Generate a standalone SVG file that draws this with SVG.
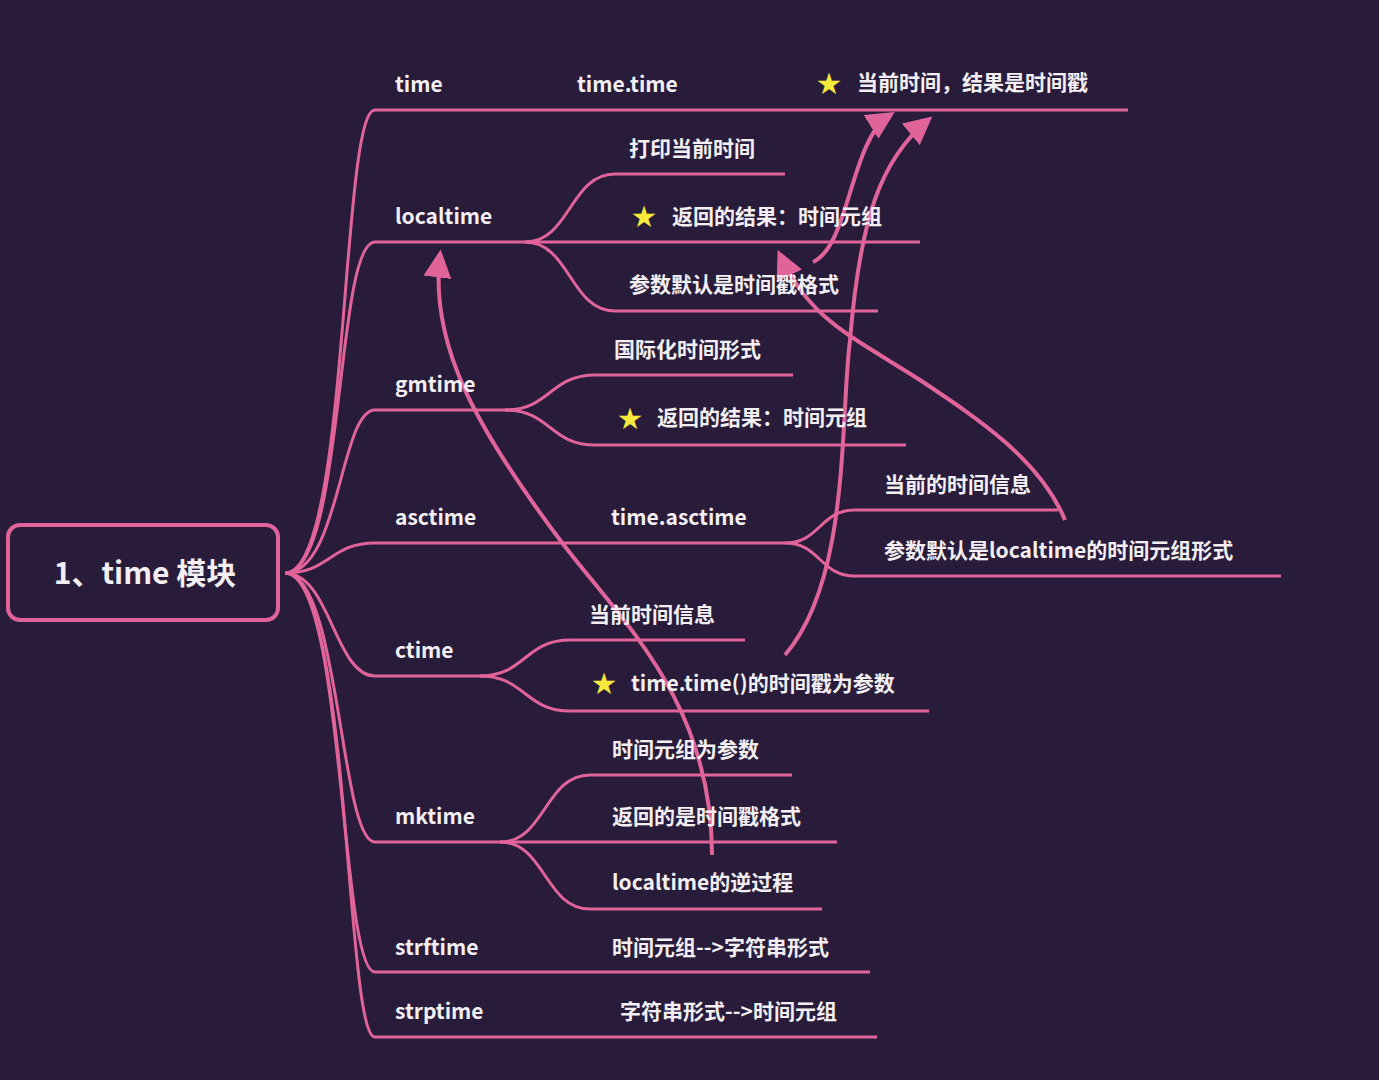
<svg xmlns="http://www.w3.org/2000/svg" width="1379" height="1080" viewBox="0 0 1379 1080">
<style>
.l{fill:none;stroke:#e0649a;stroke-width:3}
.a{fill:none;stroke:#e0649a;stroke-width:4}
text{font-family:"Noto Sans CJK SC","Liberation Sans",sans-serif;font-weight:bold;font-size:21px;fill:#f2eef2}
.s{fill:#f5ea3c;font-size:24px}
</style>
<defs><marker id="m" viewBox="0 0 10 10" refX="5" refY="5" markerWidth="6" markerHeight="6" orient="auto-start-reverse" markerUnits="userSpaceOnUse"><path d="M0,0L10,5L0,10z" fill="#e0649a"/></marker>
<marker id="h" viewBox="0 0 10 10" refX="8" refY="5" markerWidth="7" markerHeight="7" orient="auto"><path d="M0,0L10,5L0,10z" fill="#e0649a"/></marker></defs>
<rect width="1379" height="1080" fill="#281c3a"/>
<g id="connectors">
<path class="l" d="M285,573C350,573 340,110 375,110H1128"/>
<path class="l" d="M285,573C345,573 335,242 375,242H525"/>
<path class="l" d="M285,573C340,573 340,410 375,410H520"/>
<path class="l" d="M285,573C330,573 330,543 375,543H785"/>
<path class="l" d="M285,573C330,573 335,676 375,676H490"/>
<path class="l" d="M285,573C340,573 340,842 375,842H500"/>
<path class="l" d="M285,573C345,573 340,972 375,972H870"/>
<path class="l" d="M285,573C350,573 345,1037 375,1037H877"/>
<path class="l" d="M525,242C570,242 570,174 615,174H785"/>
<path class="l" d="M525,242H920"/>
<path class="l" d="M525,242C570,242 570,311 615,311H878"/>
<path class="l" d="M505,410C550,410 550,375 595,375H793"/>
<path class="l" d="M505,410C550,410 550,445 595,445H906"/>
<path class="l" d="M785,543C820,543 820,510 855,510H1058"/>
<path class="l" d="M785,543C820,543 820,576 855,576H1281"/>
<path class="l" d="M480,676C525,676 525,640 570,640H745"/>
<path class="l" d="M480,676C525,676 525,711 570,711H929"/>
<path class="l" d="M500,842C545,842 545,775 590,775H792"/>
<path class="l" d="M500,842H837"/>
<path class="l" d="M500,842C545,842 545,909 590,909H822"/>
<path class="a" marker-end="url(#h)" d="M813,262C850,245 850,140 890,115"/>
<path class="a" marker-end="url(#h)" d="M785,655C850,580 840,420 850,340C860,220 880,160 928,120"/>
<path class="a" marker-end="url(#h)" d="M1065,520C1040,460 980,420 920,380C850,335 810,320 780,255"/>
<path class="a" marker-end="url(#h)" d="M712,855C712,700 620,620 560,540C470,420 430,340 440,255"/>
</g>
<g id="root"><rect x="8" y="525" width="270" height="95" rx="12" fill="none" stroke="#e0649a" stroke-width="4"/><text x="145" y="584" text-anchor="middle" style="font-size:30px">1、time 模块</text></g>
<g id="time"><text x="395" y="92">time</text><text x="577" y="92">time.time</text><text class="s" x="817" y="92">★</text><text x="857" y="90">当前时间，结果是时间戳</text></g>
<g id="localtime"><text x="395" y="224">localtime</text><text x="629" y="156">打印当前时间</text><text class="s" x="632" y="225">★</text><text x="672" y="224">返回的结果：时间元组</text><text x="629" y="292">参数默认是时间戳格式</text></g>
<g id="gmtime"><text x="395" y="392">gmtime</text><text x="614" y="357">国际化时间形式</text><text class="s" x="618" y="427">★</text><text x="657" y="425">返回的结果：时间元组</text></g>
<g id="asctime"><text x="395" y="525">asctime</text><text x="611" y="525">time.asctime</text><text x="884" y="492">当前的时间信息</text><text x="884" y="558">参数默认是localtime的时间元组形式</text></g>
<g id="ctime"><text x="395" y="658">ctime</text><text x="589" y="622">当前时间信息</text><text class="s" x="592" y="692">★</text><text x="631" y="691">time.time()的时间戳为参数</text></g>
<g id="mktime"><text x="395" y="824">mktime</text><text x="612" y="757">时间元组为参数</text><text x="612" y="824">返回的是时间戳格式</text><text x="612" y="890">localtime的逆过程</text></g>
<g id="strftime"><text x="395" y="955">strftime</text><text x="612" y="955">时间元组-->字符串形式</text></g>
<g id="strptime"><text x="395" y="1019">strptime</text><text x="620" y="1019">字符串形式-->时间元组</text></g>
</svg>
